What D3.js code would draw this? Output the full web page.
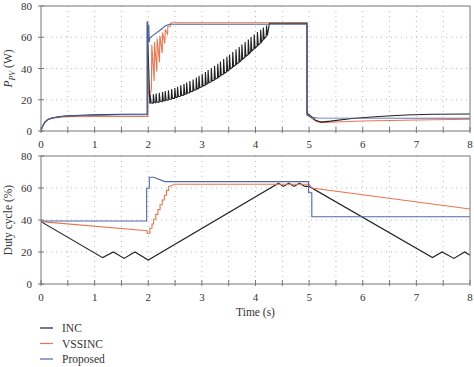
<!DOCTYPE html>
<html>
<head>
<meta charset="utf-8">
<script src="https://cdn.jsdelivr.net/npm/d3@7"></script>
<style>
  body { margin: 0; background: #fff; }
  text { font-family: "Liberation Serif", "DejaVu Serif", serif; fill: #333; }
</style>
</head>
<body>
<script>
// time axis (s)
var xTicks = [0, 1, 2, 3, 4, 5, 6, 7, 8];
var yTicks = [0, 20, 40, 60, 80];

// PV power (W), [t, P]
var incPowerStart = [[0,0.5],[0.03,3],[0.07,5.5],[0.12,7.2],[0.2,8.3],[0.35,9.2],[0.5,9.7],[1,10.3],[1.5,10.7],[1.98,10.9],[1.98,70]];
// INC ripple after the irradiance step: tooth time, low, high
var incRippleT  = [2.03,2.09,2.14,2.20,2.26,2.31,2.37,2.43,2.49,2.54,2.60,2.66,2.71,2.77,2.83,2.89,2.94,3.00,3.06,3.11,3.17,3.23,3.29,3.34,3.40,3.46,3.51,3.57,3.63,3.69,3.74,3.80,3.86,3.91,3.97,4.03,4.09,4.14,4.20];
var incRippleLo = [17.5,17.7,18.0,18.4,18.8,19.3,19.8,20.3,20.9,21.5,22.2,22.9,23.7,24.5,25.4,26.3,27.2,28.2,29.2,30.3,31.4,32.6,33.8,35.1,36.4,37.8,39.2,40.7,42.2,43.8,45.4,47.1,48.8,50.6,52.4,54.3,56.3,58.4,60.6];
var incRippleHi = [23,23.5,24,24.5,25,25.5,26,26.8,27.5,28.3,29.2,30,31,32,33,34.2,35.3,36.5,37.8,39,40.3,41.7,43,44.5,46,47.5,49,50.6,52.2,53.8,55.4,57,58.6,60.2,61.8,63.3,64.8,66.2,67.5];
var incPowerEnd = [[4.26,69],[4.96,69],[4.96,11.5],[5.05,9],[5.12,6.8],[5.22,5.7],[5.4,6.3],[5.8,8],[6.3,9.3],[6.8,10.2],[7.3,10.7],[8,10.9]];

var vssPowerStart = [[0,0.5],[0.03,3],[0.07,5.5],[0.12,7.1],[0.2,8.1],[0.35,8.8],[0.5,9.1],[1,9.3],[1.99,9.3],[1.99,48],[2.01,23],[2.03,23]];
var vssRippleT  = [2.06,2.11,2.16,2.21,2.26,2.31,2.36,2.41];
var vssRippleLo = [27,32,38,44,50,56,62,67];
var vssRippleHi = [55,57,59,61,63,65,67,69];
var vssPowerEnd = [[2.45,69.3],[4.96,69.3],[4.96,11],[5.05,8],[5.15,6],[5.25,5.5],[5.5,5.8],[6,6.4],[7,7],[8,7.5]];

var propPower = [[0,0.5],[0.03,3],[0.07,5.5],[0.12,7.2],[0.2,8.3],[0.35,9.1],[0.5,9.6],[1,10.1],[1.5,10.4],[1.99,10.5],[1.99,70],[2.0,57],[2.01,68],[2.02,57],[2.03,59.5],[2.1,61.5],[2.22,64.5],[2.32,67.3],[2.4,68.3],[4.96,68.3],[4.96,10],[5.05,8.7],[5.15,8.3],[8,8.2]];

// duty cycle (%), [t, D]
var incDuty = [[0,39],[1.15,16.5],[1.35,20],[1.55,16],[1.75,20],[2.0,15],[4.43,63],[4.52,61],[4.62,63],[4.72,61],[4.82,63],[4.92,61],[5.0,61],[7.3,16.5],[7.48,20],[7.7,16],[7.9,20],[8,18]];
var vssDuty = [[0,39],[1.98,33.3],[1.98,31.7],[2.03,31.7],[2.03,34.8],[2.07,34.8],[2.07,37.5],[2.1,37.5],[2.1,40.5],[2.14,40.5],[2.14,43.5],[2.18,43.5],[2.18,46.5],[2.22,46.5],[2.22,49.5],[2.26,49.5],[2.26,52.5],[2.3,52.5],[2.3,55.5],[2.34,55.5],[2.34,58.5],[2.38,58.5],[2.38,60.8],[2.44,61.5],[2.48,62.3],[5.0,62.3],[5.05,60],[8,46.9]];
var propDuty = [[0,39.4],[1.97,39.4],[1.97,59.8],[2.02,59.8],[2.02,66.7],[2.1,66.7],[2.31,64],[4.99,64],[4.99,57],[5.05,57],[5.05,42],[8,42]];

var seriesNames = ['INC', 'VSSINC', 'Proposed'];
var colours = ['#222', '#e9764f', '#4d68ad'];

// build the rippled power traces from the typed points (thin spikes)
var incPower = incPowerStart.slice();
incRippleT.forEach(function(t, i) {
  incPower.push([t, incRippleLo[i]]);
  incPower.push([t + 0.006, incRippleHi[i]]);
  incPower.push([t + 0.022, incRippleLo[i] + 0.6]);
});
incPower = incPower.concat(incPowerEnd);

var vssPower = vssPowerStart.slice();
vssRippleT.forEach(function(t, i) {
  vssPower.push([t, vssRippleLo[i]]);
  vssPower.push([t + 0.006, vssRippleHi[i]]);
});
vssPower = vssPower.concat(vssPowerEnd);

var width = 474, height = 367;
var left = 41, right = 470;

var svg = d3.select('body').append('svg')
  .attr('width', width)
  .attr('height', height);

var x = d3.scaleLinear().domain([0, 8]).range([left, right]);

function panel(id, top, bottom, data, label) {
  var y = d3.scaleLinear().domain([0, 80]).range([bottom, top]);
  var g = svg.append('g');

  // dotted grid
  g.selectAll('.vg').data(d3.range(1, 16).map(function(d) { return d / 2; }))
    .enter().append('line')
    .attr('x1', function(d) { return x(d); }).attr('x2', function(d) { return x(d); })
    .attr('y1', top).attr('y2', bottom)
    .attr('stroke', '#bbb').attr('stroke-dasharray', '1,4');
  g.selectAll('.hg').data([20, 40, 60])
    .enter().append('line')
    .attr('x1', left).attr('x2', right)
    .attr('y1', function(d) { return y(d); }).attr('y2', function(d) { return y(d); })
    .attr('stroke', '#bbb').attr('stroke-dasharray', '1,4');

  g.append('clipPath').attr('id', id)
    .append('rect').attr('x', left).attr('y', top).attr('width', right - left).attr('height', bottom - top);

  var line = d3.line()
    .x(function(d) { return x(d[0]); })
    .y(function(d) { return y(d[1]); });

  g.append('g').attr('clip-path', 'url(#' + id + ')')
    .selectAll('path').data(data)
    .enter().append('path')
    .attr('d', function(d) { return line(d.pts); })
    .attr('fill', 'none')
    .attr('stroke', function(d) { return d.colour; })
    .attr('stroke-width', 1.1);

  // frame
  g.append('rect')
    .attr('x', left).attr('y', top).attr('width', right - left).attr('height', bottom - top)
    .attr('fill', 'none').attr('stroke', '#777').attr('stroke-width', 1);

  // x ticks every 0.5
  g.selectAll('.xt').data(d3.range(0, 17).map(function(d) { return d / 2; }))
    .enter().append('line')
    .attr('x1', function(d) { return x(d); }).attr('x2', function(d) { return x(d); })
    .attr('y1', bottom - 4).attr('y2', bottom + 2)
    .attr('stroke', '#777');
  g.selectAll('.xl').data(xTicks)
    .enter().append('text')
    .attr('x', function(d) { return x(d); })
    .attr('y', bottom + 17)
    .attr('text-anchor', 'middle')
    .attr('font-size', 11)
    .text(function(d) { return d; });

  g.selectAll('.yt').data(yTicks)
    .enter().append('line')
    .attr('x1', left - 3).attr('x2', left + 3)
    .attr('y1', function(d) { return y(d); }).attr('y2', function(d) { return y(d); })
    .attr('stroke', '#777');
  g.selectAll('.yl').data(yTicks)
    .enter().append('text')
    .attr('x', left - 9)
    .attr('y', function(d) { return y(d) + 4; })
    .attr('text-anchor', 'end')
    .attr('font-size', 11)
    .text(function(d) { return d; });

  var t = g.append('text')
    .attr('transform', 'translate(12,' + (top + bottom) / 2 + ') rotate(-90)')
    .attr('text-anchor', 'middle')
    .attr('font-size', 11.5);
  label(t);
}

panel('clipTop', 6, 131, [
  { pts: vssPower, colour: colours[1] },
  { pts: incPower, colour: colours[0] },
  { pts: propPower, colour: colours[2] }
], function(t) {
  t.append('tspan').attr('font-style', 'italic').text('P');
  t.append('tspan').attr('font-style', 'italic').attr('font-size', 8).attr('dy', 3).text('PV');
  t.append('tspan').attr('dy', -3).text(' (W)');
});

panel('clipBottom', 156, 284, [
  { pts: incDuty, colour: colours[0] },
  { pts: vssDuty, colour: colours[1] },
  { pts: propDuty, colour: colours[2] }
], function(t) {
  t.text('Duty cycle (%)');
});

svg.append('text')
  .attr('x', (left + right) / 2)
  .attr('y', 316)
  .attr('text-anchor', 'middle')
  .attr('font-size', 11.5)
  .text('Time (s)');

// legend
var legend = svg.selectAll('.legend').data(seriesNames)
  .enter().append('g')
  .attr('transform', function(d, i) { return 'translate(40,' + (328 + i * 15.5) + ')'; });
legend.append('line')
  .attr('x1', 0).attr('x2', 13)
  .attr('stroke', function(d, i) { return colours[i]; })
  .attr('stroke-width', 1.2);
legend.append('text')
  .attr('x', 22).attr('y', 4)
  .attr('font-size', 11.5)
  .text(function(d) { return d; });
</script>
</body>
</html>
